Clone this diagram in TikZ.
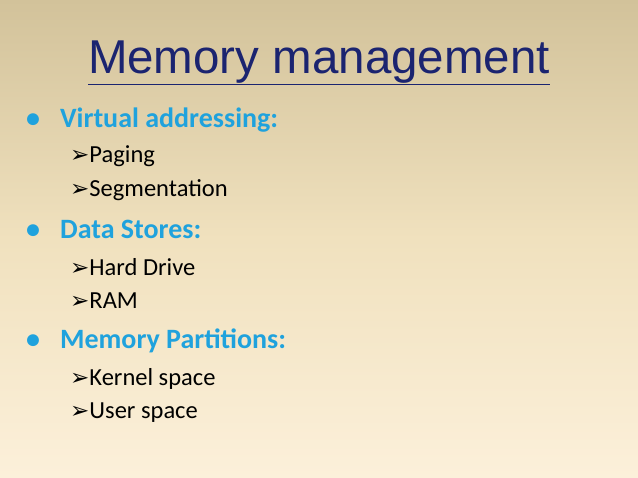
\documentclass[tikz,border=0pt]{standalone}
\usepackage{fontspec}
\setmainfont{Carlito}
\newfontfamily\arial{Liberation Sans}
\newfontfamily\djv{DejaVu Sans}
\newcommand{\arr}{{\djv\fontsize{23}{24}\selectfont ➢}}
\begin{document}
\begin{tikzpicture}[x=1pt,y=-1pt,
  head/.style={anchor=west,inner sep=0pt,font=\bfseries\fontsize{28}{30}\selectfont},
  sub/.style={anchor=west,inner sep=0pt,text=black,font=\fontsize{24.5}{28}\selectfont}]
\definecolor{ttl}{HTML}{1B2470}
\definecolor{hd}{HTML}{1FA2DD}
\shade[top color={rgb,255:red,210;green,194;blue,154},bottom color={rgb,255:red,252;green,240;blue,218},middle color={rgb,255:red,240;green,225;blue,190}] (0,0) rectangle (638,478);
\useasboundingbox (0,0) rectangle (638,478);
\node[inner sep=0pt,text=ttl,font=\arial\fontsize{47.5}{52}\selectfont] (title) at (319,63) {\underline{Memory management}};
\node[head,text=hd] (h1) at (26,120) {•\hspace{20pt}Virtual addressing:};
\node[sub] (s1) at (70,156) {\arr Paging};
\node[sub] (s2) at (70,190) {\arr Segmentation};
\node[head,text=hd] (h2) at (26,229) {•\hspace{20pt}Data Stores:};
\node[sub] (s3) at (70,267) {\arr Hard Drive};
\node[sub] (s4) at (70,301) {\arr RAM};
\node[head,text=hd] (h3) at (26,341) {•\hspace{20pt}Memory Partitions:};
\node[sub] (s5) at (70,379) {\arr Kernel space};
\node[sub] (s6) at (70,413) {\arr User space};
\end{tikzpicture}
\end{document}
